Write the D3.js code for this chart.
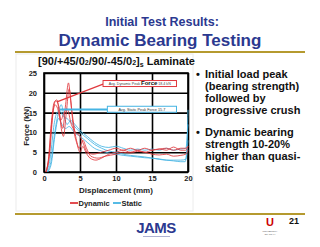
<!DOCTYPE html>
<html>
<head>
  <meta charset="utf-8">
  <title>Dynamic Bearing Testing</title>
  <style>
    body { margin: 0; padding: 0; background: white; }
    svg { display: block; font-family: "Liberation Sans", Arial, sans-serif; }
    .grid line { stroke: #000; stroke-width: 1.6; }
    .grid .domain { display: none; }
    .grid text { font-size: 7.5px; font-weight: bold; fill: #222; }
    .curve { fill: none; stroke-width: 1; }
    .bullet { font-size: 11px; font-weight: bold; fill: #111; }
  </style>
</head>
<body>
  <div id="chart"></div>
  <script src="https://d3js.org/d3.v7.min.js"></script>
  <script>
    // axis ticks
    var xTicks = [0, 5, 10, 15, 20]
    var yTicks = [0, 5, 10, 15, 20, 25]

    // dynamic test curves, [displacement mm, force kN]
    var dynamicA = [[0.2,0],[0.6,3],[1.0,12],[1.4,17.5],[1.8,18.2],[2.2,14],[2.6,11],[3.0,17],[3.4,22.5],[3.7,18],[4.1,11],[4.6,7],[5.0,5],[5.4,6.5],[5.8,5],[6.4,3.5],[7.2,3],[8,3.5],[9,4.5],[10,5],[11,5.5],[12,5],[13,5.5],[14,5],[15,5.5],[16,5.8],[17,5.5],[18,6.3],[19,5.5],[19.7,5.5],[20,6.5]]
    var dynamicB = [[0.3,0],[0.8,5],[1.2,14],[1.6,18],[2.0,17],[2.4,11],[2.7,9],[3.1,15],[3.5,21],[3.9,15],[4.4,9],[4.9,6],[5.4,8],[5.9,6],[6.5,4],[7.5,3.5],[8.5,4],[10,4.5],[11,5],[12,4.8],[13,5.2],[14,5],[15,4.5],[16,4.3],[17,4.5],[18,4],[19,4.2],[19.7,4.5],[20,5.5]]
    var dynamicC = [[0.3,0],[0.7,4],[1.1,13],[1.5,17],[1.9,16],[2.3,13],[2.8,15],[3.2,16],[3.8,12],[4.4,10],[5,9],[5.5,7],[6,5],[6.8,4.5],[8,5],[9,5.5],[10,6],[11,5.5],[12,6],[13,5.5],[14,6],[15,5.5],[16,5.8],[17,6],[18,5.5],[19,6],[19.7,6],[20,6.5]]

    // static test curves
    var staticA = [[0.4,0],[0.9,4],[1.4,12],[1.8,15],[2.2,15.5],[2.7,14],[3.2,13.5],[4,12],[5,10],[6,8.5],[7,7],[8,6],[9,5.3],[10,5],[11,4.5],[12,4.2],[13,4],[14,3.8],[15,3.5],[16,3.3],[17,3],[18,2.8],[19,2.6],[19.6,2.6],[19.8,5],[20,15.7]]
    var staticB = [[0.5,0],[1,3],[1.5,10],[2,15],[2.4,17],[2.8,14],[3.2,12],[3.7,13],[4.3,12],[5,10.5],[6,9],[7,7.5],[8,6.5],[9,6.2],[10,6.5],[11,6],[12,5.5],[13,5.8],[14,5.5],[15,5.8],[16,5.5],[17,6],[18,5.5],[19,5.8],[19.7,6],[20,12]]
    var staticC = [[0.5,0],[1,2],[1.5,9],[2,13.5],[2.5,12],[3,11],[3.5,11.5],[4.2,10],[5,9],[6,7.5],[7,6],[8,5.3],[9,4.8],[10,4.5],[11,4.2],[12,4],[13,3.8],[14,3.6],[15,3.5],[16,3.2],[17,3],[18,3],[19,3],[19.7,3.2],[20,8]]

    // average peak annotations
    var dynamicPeak = { from: [1.8, 17.7], to: [8.2, 22.2], label: "Avg. Dynamic Peak ", bold: "Force", unit: " 18.4 kN" }
    var staticPeak = { from: [2.2, 15.8], to: [8.8, 15.8], label: "Avg. Static Peak Force 15.7" }

    var bullets = [
      ["Initial load peak", "(bearing strength)", "followed by", "progressive crush"],
      ["Dynamic bearing", "strength 10-20%", "higher than quasi-", "static"]
    ]

    drawSlide()

    function drawSlide() {
      var red = "#e0393e", blue = "#45b4e3", navy = "#2b3990", gold = "#b59a2f"

      var width = 320, height = 247
      var svg = d3.select("#chart").append("svg")
        .attr("width", width).attr("height", height)

      // titles
      svg.append("text").attr("x", 162).attr("y", 26).attr("text-anchor", "middle")
        .style("font-size", "12.5px").style("font-weight", "bold").style("fill", navy)
        .text("Initial Test Results:")
      svg.append("text").attr("x", 160).attr("y", 46).attr("text-anchor", "middle")
        .style("font-size", "17px").style("font-weight", "bold").style("fill", navy)
        .text("Dynamic Bearing Testing")

      // gold rules
      svg.append("rect").attr("x", 15).attr("y", 51).attr("width", 290).attr("height", 2).attr("fill", gold)
      svg.append("rect").attr("x", 15).attr("y", 213).attr("width", 290).attr("height", 2).attr("fill", gold)

      // faint chart frame
      svg.append("rect").attr("x", 16).attr("y", 54).attr("width", 177).attr("height", 157)
        .attr("fill", "none").attr("stroke", "#ececec")

      // laminate title
      var lam = svg.append("text").attr("x", 38).attr("y", 65)
        .style("font-size", "11px").style("font-weight", "bold").style("fill", "#111")
      lam.append("tspan").text("[90/+45/0")
      lam.append("tspan").style("font-size", "7px").text("2")
      lam.append("tspan").text("/90/-45/0")
      lam.append("tspan").style("font-size", "7px").text("2")
      lam.append("tspan").text("]")
      lam.append("tspan").style("font-size", "7px").attr("dy", 2).text("s")
      lam.append("tspan").attr("dy", -2).text(" Laminate")

      // plot area
      var pLeft = 44, pRight = 188, pTop = 73, pBottom = 172
      var x = d3.scaleLinear().domain([0, 20]).range([pLeft, pRight])
      var y = d3.scaleLinear().domain([0, 25]).range([pBottom, pTop])

      svg.append("g").attr("class", "grid")
        .attr("transform", "translate(0," + pBottom + ")")
        .call(d3.axisBottom(x).tickValues(xTicks).tickSizeInner(-(pBottom - pTop)).tickSizeOuter(0).tickPadding(4))
      svg.append("g").attr("class", "grid")
        .attr("transform", "translate(" + pLeft + ",0)")
        .call(d3.axisLeft(y).tickValues(yTicks).tickSizeInner(-(pRight - pLeft)).tickSizeOuter(0).tickPadding(7))

      svg.append("rect").attr("x", pLeft).attr("y", pTop)
        .attr("width", pRight - pLeft).attr("height", pBottom - pTop)
        .attr("fill", "none").attr("stroke", "#000").attr("stroke-width", 1.6)

      var line = d3.line()
        .x(function(d) { return x(d[0]) })
        .y(function(d) { return y(d[1]) })
        .curve(d3.curveMonotoneX)

      var curves = [
        { data: staticA, color: blue }, { data: staticB, color: blue }, { data: staticC, color: blue },
        { data: dynamicA, color: red }, { data: dynamicB, color: red }, { data: dynamicC, color: red }
      ]
      svg.append("g").selectAll("path")
        .data(curves).enter().append("path")
        .attr("class", "curve")
        .attr("d", function(d) { return line(d.data) })
        .attr("stroke", function(d) { return d.color })
        .attr("stroke-opacity", 0.85)

      // annotations
      svg.append("line")
        .attr("x1", x(dynamicPeak.from[0])).attr("y1", y(dynamicPeak.from[1]))
        .attr("x2", x(dynamicPeak.to[0])).attr("y2", y(dynamicPeak.to[1]))
        .attr("stroke", red).attr("stroke-width", 1.2)
      svg.append("rect").attr("x", x(8.2)).attr("y", y(23.1)).attr("width", x(18.4) - x(8.2)).attr("height", 6)
        .attr("fill", "white").attr("stroke", red).attr("stroke-width", 1)
      var dt = svg.append("text").attr("x", x(13.3)).attr("y", y(23.1) + 4.6).attr("text-anchor", "middle")
        .style("font-size", "3.6px").style("fill", "#444")
      dt.append("tspan").text(dynamicPeak.label)
      dt.append("tspan").style("font-size", "6px").style("font-weight", "bold").style("fill", "#111").text(dynamicPeak.bold)
      dt.append("tspan").text(dynamicPeak.unit)

      svg.append("line")
        .attr("x1", x(staticPeak.from[0])).attr("y1", y(staticPeak.from[1]))
        .attr("x2", x(staticPeak.to[0])).attr("y2", y(staticPeak.to[1]))
        .attr("stroke", blue).attr("stroke-width", 2)
      svg.append("rect").attr("x", x(8.8)).attr("y", y(16.6)).attr("width", x(18.4) - x(8.8)).attr("height", 6)
        .attr("fill", "white").attr("stroke", blue).attr("stroke-width", 1)
      svg.append("text").attr("x", x(13.6)).attr("y", y(16.6) + 4.3).attr("text-anchor", "middle")
        .style("font-size", "3.8px").style("fill", "#333")
        .text(staticPeak.label)

      // axis titles
      svg.append("text").attr("transform", "translate(29,126) rotate(-90)").attr("text-anchor", "middle")
        .style("font-size", "8px").style("font-weight", "bold").style("fill", "#222")
        .text("Force (kN)")
      svg.append("text").attr("x", 116).attr("y", 193).attr("text-anchor", "middle")
        .style("font-size", "8px").style("font-weight", "bold").style("fill", "#222")
        .text("Displacement (mm)")

      // legend
      var legend = svg.append("g").selectAll("g")
        .data([{ name: "Dynamic", color: red, x: 70 }, { name: "Static", color: blue, x: 113 }])
        .enter().append("g")
      legend.append("line")
        .attr("x1", function(d) { return d.x }).attr("x2", function(d) { return d.x + 8 })
        .attr("y1", 203).attr("y2", 203)
        .attr("stroke", function(d) { return d.color }).attr("stroke-width", 1.8)
      legend.append("text")
        .attr("x", function(d) { return d.x + 8.5 }).attr("y", 206)
        .style("font-size", "7.5px").style("font-weight", "bold").style("fill", "#222")
        .text(function(d) { return d.name })

      // bullet points
      var yPos = 78
      bullets.forEach(function(group) {
        svg.append("text").attr("class", "bullet").attr("x", 196).attr("y", yPos).text("•")
        group.forEach(function(t) {
          svg.append("text").attr("class", "bullet").attr("x", 205).attr("y", yPos).text(t)
          yPos += 12
        })
        yPos += 10
      })

      // footer logos
      svg.append("text").attr("x", 156).attr("y", 233).attr("text-anchor", "middle")
        .style("font-size", "15px").style("font-weight", "bold").style("fill", navy)
        .style("letter-spacing", "-0.5px").text("JAMS")
      svg.append("line").attr("x1", 143).attr("x2", 170).attr("y1", 236.5).attr("y2", 236.5)
        .attr("stroke", "#9aa0c8").attr("stroke-width", 0.8)

      svg.append("text").attr("x", 270).attr("y", 226).attr("text-anchor", "middle")
        .style("font-size", "11px").style("font-weight", "bold").style("fill", "#cc0000").text("U")
      svg.append("text").attr("x", 270).attr("y", 231.5).attr("text-anchor", "middle")
        .style("font-size", "2.5px").style("fill", "#555").text("UNIVERSITY")
      svg.append("text").attr("x", 270).attr("y", 235).attr("text-anchor", "middle")
        .style("font-size", "2.5px").style("fill", "#555").text("OF UTAH")
      svg.append("text").attr("x", 289).attr("y", 224)
        .style("font-size", "9px").style("font-weight", "bold").style("fill", "#111").text("21")
    }
  </script>
</body>
</html>
